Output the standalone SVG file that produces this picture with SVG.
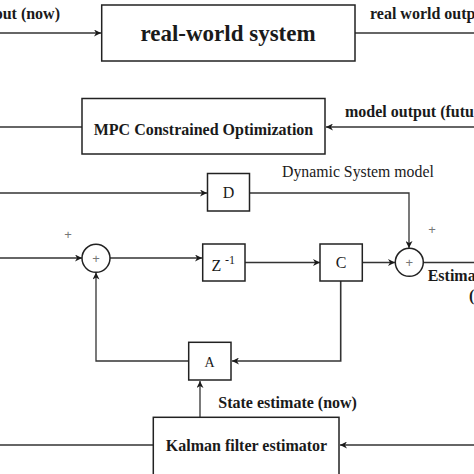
<svg xmlns="http://www.w3.org/2000/svg" width="474" height="474" viewBox="0 0 474 474">
<defs>
<marker id="ah" viewBox="0 0 10 10" refX="10" refY="5" markerWidth="7" markerHeight="7" markerUnits="userSpaceOnUse" orient="auto">
<path d="M0,0 L10,5 L0,10 L3,5 Z" fill="#1a1a1a"/>
</marker>
<style>
.box{fill:#fff;stroke:#222;stroke-width:1.5}
.ln{fill:none;stroke:#333;stroke-width:1.3}
.b{font-family:"Liberation Serif",serif;font-weight:bold;fill:#1a1a1a;font-size:16px}
.r{font-family:"Liberation Serif",serif;fill:#1a1a1a}
.pl{font-family:"Liberation Sans",sans-serif;fill:#777;font-size:13px}
</style>
</defs>
<rect width="474" height="474" fill="#fff"/>
<g id="connectors">
<line class="ln" x1="0" y1="33" x2="101" y2="33" marker-end="url(#ah)"/>
<line class="ln" x1="355" y1="33" x2="474" y2="33"/>
<line class="ln" x1="0" y1="127" x2="82" y2="127"/>
<line class="ln" x1="474" y1="127" x2="326" y2="127" marker-end="url(#ah)"/>
<line class="ln" x1="0" y1="193" x2="207" y2="193" marker-end="url(#ah)"/>
<polyline class="ln" points="249,193 409,193 409,248" marker-end="url(#ah)"/>
<line class="ln" x1="0" y1="258" x2="82" y2="258" marker-end="url(#ah)"/>
<line class="ln" x1="110" y1="258" x2="202" y2="258" marker-end="url(#ah)"/>
<line class="ln" x1="245" y1="262.5" x2="320" y2="262.5" marker-end="url(#ah)"/>
<line class="ln" x1="362" y1="262.5" x2="395" y2="262.5" marker-end="url(#ah)"/>
<line class="ln" x1="423" y1="262.5" x2="474" y2="262.5"/>
<polyline class="ln" points="340.7,281 340.7,361 232,361" marker-end="url(#ah)" style="stroke-width:1.6"/>
<polyline class="ln" points="189,361 96,361 96,272.5" marker-end="url(#ah)"/>
<line class="ln" x1="200" y1="417" x2="200" y2="381" marker-end="url(#ah)"/>
<line class="ln" x1="0" y1="445" x2="153" y2="445"/>
<line class="ln" x1="474" y1="445" x2="340" y2="445" marker-end="url(#ah)"/>
</g>
<g id="real-world">
<rect class="box" x="101.7" y="5" width="253.3" height="56"/>
<text class="b" x="228" y="41" style="font-size:23px" text-anchor="middle">real-world system</text>
</g>
<g id="mpc">
<rect class="box" x="82" y="98.5" width="243" height="55.5"/>
<text class="b" x="203.5" y="134.5" text-anchor="middle">MPC Constrained Optimization</text>
</g>
<g id="D">
<rect class="box" x="207.5" y="173.5" width="42" height="37.5"/>
<text class="r" x="228.5" y="198" font-size="16" text-anchor="middle">D</text>
</g>
<g id="sum1">
<circle class="box" cx="96" cy="258.3" r="14"/>
<text class="pl" x="96" y="263" text-anchor="middle">+</text>
</g>
<g id="Z">
<rect class="box" x="202.7" y="244" width="42.3" height="37"/>
<text class="r" x="216.5" y="271" font-size="16" text-anchor="middle">Z</text>
<text class="r" x="230" y="263.5" font-size="12" text-anchor="middle">-1</text>
</g>
<g id="C">
<rect class="box" x="320" y="244" width="42.3" height="37"/>
<text class="r" x="341" y="268" font-size="16" text-anchor="middle">C</text>
</g>
<g id="sum2">
<circle class="box" cx="409.3" cy="262.3" r="14"/>
<text class="pl" x="409.3" y="267" text-anchor="middle">+</text>
</g>
<g id="A">
<rect class="box" x="188.7" y="342.3" width="42.3" height="37.7"/>
<text class="r" x="209.5" y="366.5" font-size="14" text-anchor="middle">A</text>
</g>
<g id="kalman">
<rect class="box" x="153.3" y="417.3" width="185.7" height="70"/>
<text class="b" x="246.5" y="450.5" text-anchor="middle">Kalman filter estimator</text>
</g>
<g id="labels">
<text class="b" x="60" y="19" text-anchor="end">out (now)</text>
<text class="b" x="370" y="19">real world outp</text>
<text class="b" x="345" y="117">model output (futu</text>
<text class="r" x="282" y="177" font-size="15.8">Dynamic System model</text>
<text class="pl" x="68" y="239" text-anchor="middle">+</text>
<text class="pl" x="432" y="234" text-anchor="middle">+</text>
<text class="b" x="427.7" y="280.5">Estima</text>
<text class="b" x="469" y="300.5">(</text>
<text class="b" x="218.3" y="407.5">State estimate (now)</text>
</g>
</svg>
